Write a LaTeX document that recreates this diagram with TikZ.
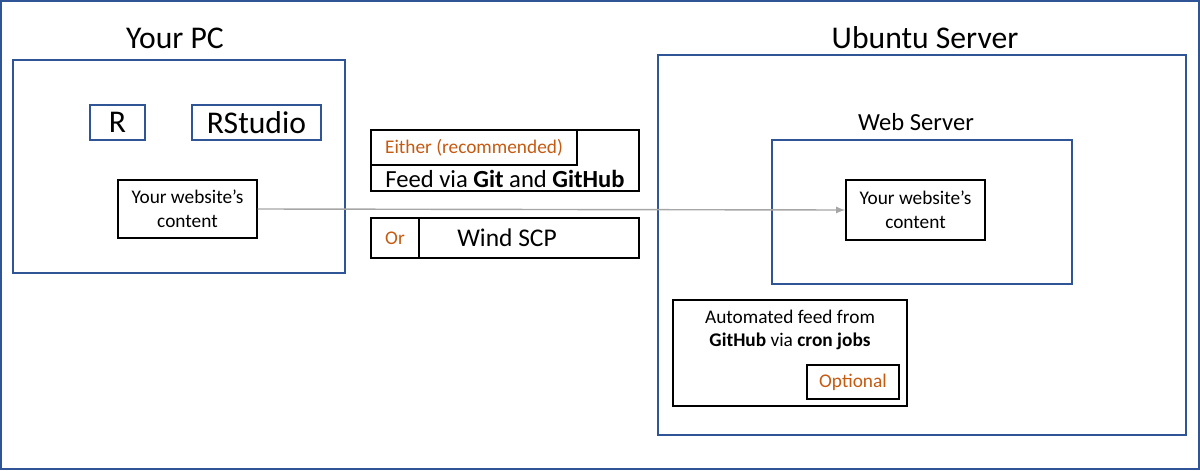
\documentclass[tikz,border=0pt]{standalone}
\usepackage{fontspec}
\setmainfont{Carlito}
\definecolor{bl}{HTML}{2F5597}
\definecolor{org}{HTML}{C55A11}
\begin{document}
\begin{tikzpicture}[x=0.02cm,y=-0.02cm,
  bbox/.style={draw=bl,line width=0.8pt},
  kbox/.style={draw=black,line width=0.8pt},
  sm/.style={font=\fontsize{11}{13.5}\selectfont,align=center,inner sep=1pt},
  mid/.style={font=\fontsize{14}{16}\selectfont},
  big/.style={font=\fontsize{18}{20}\selectfont}]
\useasboundingbox (0,0) rectangle (1200,470);
\draw[bbox] (1,1) rectangle (1199,469);
\node[big] (pct) at (175,38) {Your PC};
\draw[bbox] (13,60) rectangle (345,273);
\node[bbox,big,inner sep=1pt,minimum width=55*0.02cm,minimum height=35*0.02cm] (r) at (117.5,122.5) {R};
\node[bbox,big,inner sep=1pt,minimum width=129*0.02cm,minimum height=35*0.02cm] (rs) at (256.5,122.5) {RStudio};
\node[kbox,sm,minimum width=139*0.02cm,minimum height=58*0.02cm] (c1) at (187.5,209) {Your website’s\\content};
\draw[kbox] (371,130) rectangle (639,191);
\node[kbox,sm,text=org,minimum width=206*0.02cm,minimum height=35*0.02cm] (eith) at (474,147.5) {Either (recommended)};
\node[mid] (feed) at (505,179) {Feed via \textbf{Git} and \textbf{GitHub}};
\draw[kbox] (371,218) rectangle (639,258);
\node[kbox,sm,text=org,minimum width=48*0.02cm,minimum height=40*0.02cm] (or) at (395,238) {Or};
\node[mid,font=\fontsize{14.5}{16}\selectfont] (scp) at (507,238) {Wind SCP};
\node[big] (ub) at (925,38) {Ubuntu Server};
\node[mid] (ws) at (916,122) {Web Server};
\draw[bbox] (658,55) rectangle (1186,435);
\draw[bbox] (772,140) rectangle (1072,284);
\node[kbox,sm,minimum width=139*0.02cm,minimum height=60*0.02cm] (c2) at (915.5,210) {Your website’s\\content};
\draw[kbox] (673,300) rectangle (907,406);
\node[sm] (auto) at (790,330) {Automated feed from\\\textbf{GitHub} via \textbf{cron jobs}};
\node[kbox,sm,text=org,minimum width=92*0.02cm,minimum height=34*0.02cm] (opt) at (853,382) {Optional};
\draw[gray!70,line width=0.8pt,-latex] (c1.east) -- (c2.west);
\end{tikzpicture}
\end{document}
